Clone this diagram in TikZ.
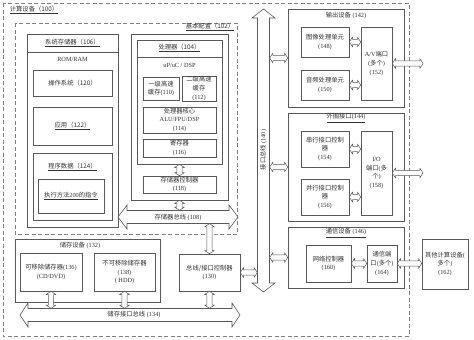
\documentclass[tikz,border=0pt]{standalone}
\usepackage{fontspec}
\setmainfont{Liberation Serif}
\newfontfamily\cjk{Noto Sans CJK SC}
\usetikzlibrary{calc}
\newcommand\zh[1]{{\cjk #1}}
\newcommand\fs{\fontsize{6.3}{8.8}\selectfont}
\definecolor{lc}{gray}{0.35}
\definecolor{dc}{gray}{0.5}
\definecolor{tc}{gray}{0.2}
% \bx[opts]{name}{x1}{y1}{x2}{y2}{text};
\newcommand\bx[6][]{\node[box,#1,minimum width={#5-#3},minimum height={#6-#4}] (#2) at ({(#3+#5)/2},{(#4+#6)/2})}
\tikzset{
  box/.style={draw=lc, line width=0.6pt, fill=white, inner sep=0.5pt, align=center, font=\fs, text=tc},
  dbox/.style={draw=dc, line width=0.6pt, dash pattern=on 4pt off 2.5pt},
  lbl/.style={font=\fs, text=tc, inner sep=0.5pt, align=center},
  blk/.style={draw=lc, line width=0.5pt, fill=white, line join=round},
  hdbl/.style={blk, to path={let \p1=(\tikztostart), \p2=(\tikztotarget) in
     (\x1,\y1) -- ({\x1+3.2pt},{\y1+5pt}) -- ({\x1+3.2pt},{\y1+2.6pt}) -- ({\x2-3.2pt},{\y1+2.6pt}) -- ({\x2-3.2pt},{\y1+5pt})
     -- (\x2,\y1) -- ({\x2-3.2pt},{\y1-5pt}) -- ({\x2-3.2pt},{\y1-2.6pt}) -- ({\x1+3.2pt},{\y1-2.6pt}) -- ({\x1+3.2pt},{\y1-5pt}) -- cycle}},
  vdbl/.style={blk, to path={let \p1=(\tikztostart), \p2=(\tikztotarget) in
     (\x1,\y1) -- ({\x1+5pt},{\y1-3.2pt}) -- ({\x1+2.6pt},{\y1-3.2pt}) -- ({\x1+2.6pt},{\y2+3.2pt}) -- ({\x1+5pt},{\y2+3.2pt})
     -- (\x1,\y2) -- ({\x1-5pt},{\y2+3.2pt}) -- ({\x1-2.6pt},{\y2+3.2pt}) -- ({\x1-2.6pt},{\y1-3.2pt}) -- ({\x1-5pt},{\y1-3.2pt}) -- cycle}},
  busline/.style={draw=lc, line width=0.6pt, fill=white},
  shaft/.style={inner sep=0pt, draw=none},
  hline/.style={draw=lc, line width=0.6pt},
}
\begin{document}
\begin{tikzpicture}[x=1pt,y=-1pt]
\useasboundingbox[fill=white] (0,0) rectangle (474,340);

% dashed frames
\draw[dbox] (3,3) rectangle (409,336);
\node[lbl] (t100) at (34,10) {\underline{\zh{计算设备（100）}}};
\draw[dbox] (15,23) rectangle (237,234);
\node[lbl] (t102) at (210,27) {\underline{\zh{基本配置（102）}}};

% system memory
\bx{sysmem}{27}{34}{118}{227}{};
\draw[hline] (27,52) -- (118,52);
\node[lbl] (t106) at (72.5,43) {\underline{\zh{系统存储器（106）}}};
\node[lbl] (romram) at (72.5,59) {ROM/RAM};
\bx{os}{33}{70}{112}{96}{\zh{操作系统（120）}};
\bx{app}{33}{107}{112}{145}{\underline{\zh{应用（122）}}};
\bx{pdata}{33}{153}{112}{220}{};
\node[lbl] (t124) at (72.5,167) {\underline{\zh{程序数据（124）}}};
\bx{instr}{38}{179}{104}{213}{\underline{\zh{执行方法}200\zh{的指令}}};

% processor
\bx{procouter}{131}{34}{228}{200}{};
\bx{proc}{137}{40}{222}{164}{};
\draw[hline] (137,57) -- (222,57);
\node[lbl] (t104) at (179.5,48) {\underline{\zh{处理器（104）}}};
\node[lbl] (updsp) at (179.5,65.5) {uP/uC / DSP};
\bx{lone}{143}{77}{179}{100}{\zh{一级高速}\\\zh{缓存}(110)};
\bx{ltwo}{182}{77}{216}{100}{\zh{二级高速}\\\zh{缓存}\\(112)};
\bx{core}{143}{107}{216}{133}{\zh{处理器核心}\\ALU/FPU/DSP\\(114)};
\bx{reg}{143}{139}{216}{157}{\zh{寄存器}\\(116)};
\bx{memctl}{143}{176}{216}{193}{\zh{存储器控制器}\\(118)};

% memory bus
\draw[busline] (118,217) -- (127,205) -- (127,210.5) -- (229,210.5) -- (229,205) -- (238,217) -- (229,229) -- (229,223.5) -- (127,223.5) -- (127,229) -- cycle;
\node[shaft, minimum width=102pt, minimum height=13pt] (membus) at (178,217) {};
\node[lbl] (t108) at (178,217.5) {\zh{存储器总线} (108)};

% storage
\bx{storage}{15}{239}{160}{302}{};
\node[lbl] (t132) at (80,245.5) {\zh{储存设备} (132)};
\bx{remov}{20}{253}{82}{291}{\zh{可移除储存器}(136)\\(CD/DVD)};
\bx{nonrem}{94}{253}{155}{291}{\zh{不可移除储存器}\\(138)\\( HDD)};
\bx{ctl}{179}{254}{240}{291}{\zh{总线/接口控制器}\\(130)};

% storage interface bus
\draw[busline] (20,315) -- (28,303) -- (28,308.5) -- (232,308.5) -- (232,303) -- (240,315) -- (232,327) -- (232,321.5) -- (28,321.5) -- (28,327) -- cycle;
\node[shaft, minimum width=204pt, minimum height=13pt] (stbus) at (130,315) {};
\node[lbl] (t134) at (134,315) {\zh{储存接口总线} (134)};

% interface bus
\draw[busline] (263.5,9) -- (275,18) -- (269.5,18) -- (269.5,283) -- (275,283) -- (263.5,292) -- (252,283) -- (257.5,283) -- (257.5,18) -- (252,18) -- cycle;
\node[shaft, minimum width=12pt, minimum height=265pt] (ifbus) at (263.5,150.5) {};
\node[lbl, rotate=90] (t140) at (263.5,150) {\zh{接口总线} (140)};

% output devices
\bx{outdev}{288}{9}{404}{107}{};
\node[lbl] (t142) at (346,15.5) {\zh{输出设备} (142)};
\bx{img}{301}{27}{349}{57}{\zh{图像处理单元}\\(148)};
\bx{aud}{301}{70}{349}{100}{\zh{音频处理单元}\\(150)};
\bx{av}{361}{27}{392}{100}{A/V\zh{端口}\\(\zh{多个})\\(152)};

% peripheral interface
\bx{periph}{288}{113}{404}{221}{};
\node[lbl] (t144) at (346,118) {\underline{\zh{外围接口}(144)}};
\bx{ser}{301}{131}{349}{167}{\zh{串行接口控制}\\\zh{器}\\(154)};
\bx{par}{301}{179}{349}{215}{\zh{并行接口控制}\\\zh{器}\\(156)};
\bx{io}{361}{131}{392}{215}{I/O\\\zh{端口}(\zh{多}\\\zh{个})\\(158)};

% communication
\bx{comm}{288}{227}{404}{288}{};
\node[lbl] (t146) at (346,233) {\underline{\zh{通信设备} (146)}};
\bx{net}{306}{245}{351}{282}{\zh{网络控制器}\\(160)};
\bx{cport}{367}{245}{397}{282}{\zh{通信端}\\\zh{口}(\zh{多个})\\(164)};
\bx{other}{422}{239}{468}{289}{\zh{其他计算设备}(\\\zh{多个})\\(162)};

\coordinate (avend) at (423,63);
\coordinate (ioend) at (423,173);

% connectors
\draw[vdbl] (proc.south) to (memctl.north);
\draw[vdbl] (procouter.south) to (procouter.south |- membus.north);
\draw[vdbl] (ctl.north |- membus.south) to (ctl.north);
\draw[vdbl] (ctl.south) to (ctl.south |- stbus.north);
\draw[vdbl] (remov.south) to (remov.south |- stbus.north);
\draw[vdbl] (nonrem.south) to (nonrem.south |- stbus.north);
\draw[hdbl] (ctl.east) to (ctl.east -| ifbus.west);
\draw[hdbl] (ifbus.east |- outdev.west) to (outdev.west);
\draw[hdbl] (ifbus.east |- periph.west) to (periph.west);
\draw[hdbl] (ifbus.east |- comm.west) to (comm.west);
\draw[hdbl] (img.east) to (img.east -| av.west);
\draw[hdbl] (aud.east) to (aud.east -| av.west);
\draw[hdbl] (ser.east) to (ser.east -| io.west);
\draw[hdbl] (par.east) to (par.east -| io.west);
\draw[hdbl] (av.east) to (av.east -| avend);
\draw[hdbl] (io.east) to (io.east -| ioend);
\draw[hdbl] (net.east) to (net.east -| cport.west);
\draw[hdbl] (cport.east) to (cport.east -| other.west);
\end{tikzpicture}
\end{document}
